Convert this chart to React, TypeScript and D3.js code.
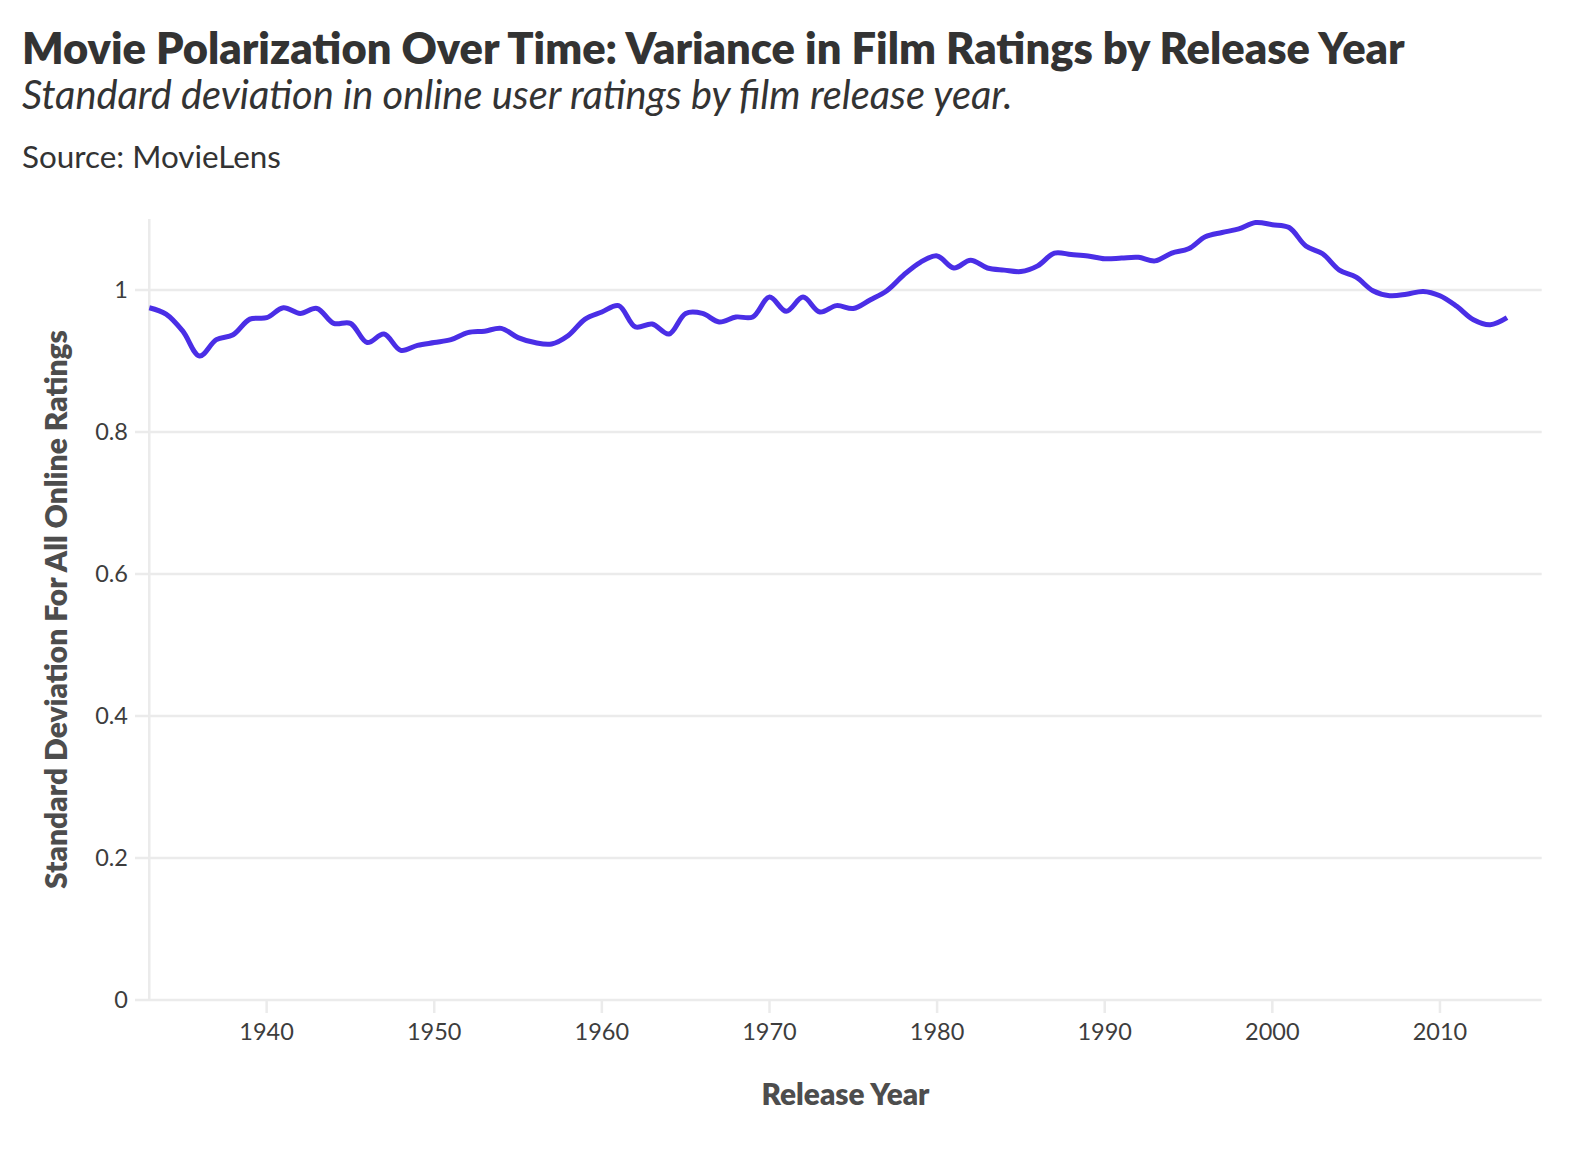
import React, { useLayoutEffect, useRef } from "react";
import * as d3 from "d3";

const years: number[] = [
  1933, 1934, 1935, 1936, 1937, 1938, 1939, 1940, 1941, 1942, 1943, 1944, 1945, 1946, 1947, 1948, 1949,
  1950, 1951, 1952, 1953, 1954, 1955, 1956, 1957, 1958, 1959, 1960, 1961, 1962, 1963, 1964, 1965, 1966,
  1967, 1968, 1969, 1970, 1971, 1972, 1973, 1974, 1975, 1976, 1977, 1978, 1979, 1980, 1981, 1982, 1983,
  1984, 1985, 1986, 1987, 1988, 1989, 1990, 1991, 1992, 1993, 1994, 1995, 1996, 1997, 1998, 1999, 2000,
  2001, 2002, 2003, 2004, 2005, 2006, 2007, 2008, 2009, 2010, 2011, 2012, 2013, 2014,
];

const stdDev: number[] = [
  0.975, 0.966, 0.942, 0.907, 0.93, 0.937, 0.959, 0.961, 0.975, 0.967, 0.974, 0.953, 0.953, 0.926, 0.938, 0.915, 0.922,
  0.926, 0.93, 0.94, 0.942, 0.946, 0.933, 0.926, 0.924, 0.936, 0.959, 0.969, 0.978, 0.948, 0.952, 0.938, 0.967, 0.967,
  0.955, 0.962, 0.962, 0.99, 0.97, 0.99, 0.969, 0.978, 0.974, 0.986, 0.999, 1.021, 1.039, 1.048, 1.031, 1.042, 1.031,
  1.028, 1.026, 1.034, 1.052, 1.05, 1.048, 1.044, 1.045, 1.046, 1.041, 1.052, 1.058, 1.075, 1.081, 1.086, 1.095, 1.092,
  1.088, 1.062, 1.051, 1.028, 1.018, 0.999, 0.992, 0.994, 0.998, 0.992, 0.977, 0.958, 0.951, 0.961,
];

const xTicks: number[] = [1940, 1950, 1960, 1970, 1980, 1990, 2000, 2010];
const yTicks: number[] = [0, 0.2, 0.4, 0.6, 0.8, 1];

const titleText = "Movie Polarization Over Time: Variance in Film Ratings by Release Year";
const subtitleText = "Standard deviation in online user ratings by film release year.";
const sourceText = "Source: MovieLens";
const xTitle = "Release Year";
const yTitle = "Standard Deviation For All Online Ratings";

const W = 1592;
const H = 1150;
const left = 149.3;
const right = 1541.7;
const top = 219;
const bottom = 1000;
const FONT = "Lato, 'Noto Sans', sans-serif";
const GRID = "#ebebeb";

export default function App() {
  const ref = useRef<SVGSVGElement>(null);

  const x = d3.scaleLinear().domain([1933, 2016.07]).range([left, right]);
  const y = d3.scaleLinear().domain([0, 1.1]).range([bottom, top]);

  const data = years.map((yr, i) => ({ yr, v: stdDev[i] }));
  const line = d3
    .line<{ yr: number; v: number }>()
    .x((d) => x(d.yr))
    .y((d) => y(d.v))
    .curve(d3.curveCatmullRom.alpha(0.5));

  useLayoutEffect(() => {
    const svg = ref.current;
    if (!svg) return;
    svg.querySelectorAll<SVGTextElement>("text[data-w]").forEach((t) => {
      const target = parseFloat(t.getAttribute("data-w") || "0");
      const fs = parseFloat(t.getAttribute("font-size") || "20");
      const len = t.getComputedTextLength();
      if (len > 0 && target > 0) t.setAttribute("font-size", String((fs * target) / len));
    });
  }, []);

  return (
    <svg ref={ref} width={W} height={H} style={{ display: "block", margin: -8 }} fontFamily={FONT}>
      <rect width={W} height={H} fill="#fff" />
      <text x={22} y={64} fontSize={40} fontWeight={800} fill="#333" data-w={1383}>
        {titleText}
      </text>
      <text x={22} y={109} fontSize={32} fontStyle="italic" fill="#333" data-w={991}>
        {subtitleText}
      </text>
      <text x={22} y={168} fontSize={27} fill="#333" data-w={259}>
        {sourceText}
      </text>

      {/* grid */}
      {yTicks.map((t) => (
        <g key={"g" + t}>
          <line x1={135} x2={right} y1={y(t)} y2={y(t)} stroke={GRID} strokeWidth={2.5} />
          <text x={128} y={y(t)} dy="0.35em" textAnchor="end" fontSize={23.5} fill="#3d3d3d">
            {d3.format("~g")(t)}
          </text>
        </g>
      ))}
      <line x1={left} x2={left} y1={top} y2={bottom} stroke={GRID} strokeWidth={2.5} />
      {xTicks.map((t) => (
        <g key={"x" + t}>
          <line x1={x(t)} x2={x(t)} y1={bottom} y2={bottom + 13} stroke={GRID} strokeWidth={2.5} />
          <text x={x(t)} y={1040} textAnchor="middle" fontSize={23.5} fill="#3d3d3d">
            {t}
          </text>
        </g>
      ))}

      <path d={line(data) || ""} fill="none" stroke="#4a2ee6" strokeWidth={5} strokeLinejoin="round" strokeLinecap="butt" />

      <text x={(left + right) / 2} y={1105} textAnchor="middle" fontSize={27} fontWeight={800} fill="#4d4d4d" data-w={168}>
        {xTitle}
      </text>
      <text
        transform={`translate(67,${(top + bottom) / 2}) rotate(-90)`}
        textAnchor="middle"
        fontSize={27}
        fontWeight={800}
        fill="#4d4d4d"
        data-w={559}
      >
        {yTitle}
      </text>
    </svg>
  );
}
